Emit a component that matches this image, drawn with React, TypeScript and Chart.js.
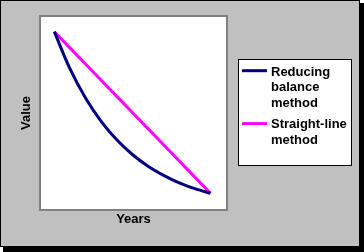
import React, { useEffect, useRef } from "react";
import { Chart, registerables } from "chart.js";

Chart.register(...registerables);

const years = [0, 1, 2, 3, 4, 5, 6, 7, 8, 9, 10];
const reducingBalance = [100, 79.4, 63.1, 50.1, 39.8, 31.6, 25.1, 20.0, 15.8, 12.6, 10.0];
const straightLine = [100, 91, 82, 73, 64, 55, 46, 37, 28, 19, 10];
const seriesLabels = ["Reducing balance method", "Straight-line method"];
const legendLines = [["Reducing", "balance", "method"], ["Straight-line", "method"]];
const seriesColors = ["#000080", "#ff00ff"];
const xTitle = "Years";
const yTitle = "Value";

const FONT = "'Liberation Sans', Arial, sans-serif";

const framePlugin = {
  id: "frame",
  beforeDraw(chart: any) {
    const ctx = chart.ctx;
    const W = chart.width, H = chart.height;
    ctx.save();
    ctx.fillStyle = "#ffffff";
    ctx.fillRect(0, 0, W, H);
    ctx.fillStyle = "#000000";
    ctx.fillRect(3, 3, W - 3, H - 3);
    ctx.fillStyle = "#c0c0c0";
    ctx.fillRect(0, 0, 360, 247);
    ctx.strokeStyle = "#000000";
    ctx.lineWidth = 1;
    ctx.strokeRect(0.5, 0.5, 359, 246);
    const a = chart.chartArea;
    ctx.fillStyle = "#ffffff";
    ctx.fillRect(a.left, a.top, a.right - a.left, a.bottom - a.top);
    ctx.strokeStyle = "#808080";
    ctx.lineWidth = 2;
    ctx.strokeRect(a.left, a.top, a.right - a.left, a.bottom - a.top);
    ctx.restore();
  },
  afterDraw(chart: any) {
    const ctx = chart.ctx;
    ctx.save();
    ctx.fillStyle = "#ffffff";
    ctx.fillRect(238, 59, 113, 106);
    ctx.strokeStyle = "#000000";
    ctx.lineWidth = 1;
    ctx.strokeRect(238.5, 59.5, 113, 106);
    ctx.font = "bold 13px " + FONT;
    ctx.fillStyle = "#000000";
    ctx.textBaseline = "alphabetic";
    ctx.textAlign = "left";
    let baseline = 75.5;
    chart.data.datasets.forEach((ds: any, i: number) => {
      const lines = legendLines[i];
      ctx.strokeStyle = ds.borderColor;
      ctx.lineWidth = 3;
      ctx.beginPath();
      ctx.moveTo(242, baseline - 4.8);
      ctx.lineTo(267, baseline - 4.8);
      ctx.stroke();
      lines.forEach((t: string, j: number) => {
        ctx.fillText(t, 271, baseline + j * 15.8);
      });
      baseline += (lines.length - 1) * 15.8 + 21.3;
    });
    ctx.restore();
  },
};

export default function App() {
  const ref = useRef<HTMLCanvasElement>(null);
  useEffect(() => {
    document.body.style.margin = "0";
    const chart = new Chart(ref.current!, {
      type: "line",
      data: {
        datasets: [
          {
            label: seriesLabels[0],
            data: years.map((x, i) => ({ x, y: reducingBalance[i] })),
            borderColor: seriesColors[0],
            borderWidth: 3,
            pointRadius: 0,
            cubicInterpolationMode: "monotone",
            fill: false,
          },
          {
            label: seriesLabels[1],
            data: years.map((x, i) => ({ x, y: straightLine[i] })),
            borderColor: seriesColors[1],
            borderWidth: 3,
            pointRadius: 0,
            fill: false,
          },
        ],
      },
      options: {
        responsive: false,
        animation: false,
        events: [],
        layout: { padding: { left: 19, top: 16, right: 137, bottom: 20.4 } },
        plugins: { legend: { display: false }, tooltip: { enabled: false } },
        scales: {
          x: {
            type: "linear",
            min: -0.915,
            max: 11.057,
            grid: { display: false },
            border: { display: false },
            ticks: { display: false },
            afterFit: (s: any) => { s.height = 21.6; },
            title: {
              display: true,
              text: xTitle,
              color: "#000000",
              font: { family: FONT, size: 13, weight: "bold", lineHeight: 1.2 },
              padding: { top: 2, bottom: 4 },
            },
          },
          y: {
            type: "linear",
            min: 0.7,
            max: 108.74,
            grid: { display: false },
            border: { display: false },
            ticks: { display: false },
            afterFit: (s: any) => { s.width = 21; },
            title: {
              display: true,
              text: yTitle,
              color: "#000000",
              font: { family: FONT, size: 13, weight: "bold", lineHeight: 1.2 },
              padding: { top: 0, bottom: 5.4 },
            },
          },
        },
      },
      plugins: [framePlugin],
    } as any);
    return () => chart.destroy();
  }, []);
  return <canvas ref={ref} width={364} height={252} style={{ display: "block" }} />;
}
